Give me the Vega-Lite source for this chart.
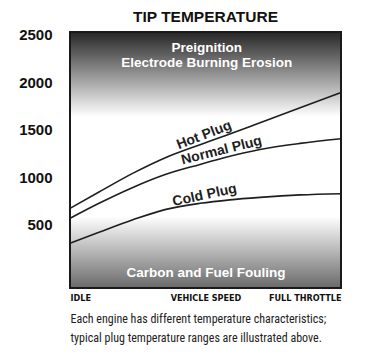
{
  "$schema": "https://vega.github.io/schema/vega-lite/v6.json",
  "width": 271,
  "height": 256,
  "autosize": "none",
  "padding": {"left": 70, "top": 32, "right": 34, "bottom": 65},
  "background": "white",
  "config": {"view": {"stroke": null}, "font": "Liberation Sans"},
  "title": {"text": "TIP TEMPERATURE", "font": "Liberation Sans", "fontSize": 15.5, "fontWeight": "bold", "color": "#111111", "anchor": "middle", "offset": 2},
  "datasets": {
    "frame": [{"x0": 0, "x1": 1, "y0": 0, "y1": 2500}],
    "curves": [
      {"plug": "Hot", "x": 0, "y": 778},
      {"plug": "Hot", "x": 0.107, "y": 937},
      {"plug": "Hot", "x": 0.231, "y": 1119},
      {"plug": "Hot", "x": 0.354, "y": 1275},
      {"plug": "Hot", "x": 0.48, "y": 1400},
      {"plug": "Hot", "x": 0.572, "y": 1487},
      {"plug": "Hot", "x": 0.701, "y": 1614},
      {"plug": "Hot", "x": 0.849, "y": 1760},
      {"plug": "Hot", "x": 1, "y": 1910},
      {"plug": "Normal", "x": 0, "y": 680},
      {"plug": "Normal", "x": 0.107, "y": 827},
      {"plug": "Normal", "x": 0.232, "y": 982},
      {"plug": "Normal", "x": 0.354, "y": 1110},
      {"plug": "Normal", "x": 0.48, "y": 1207},
      {"plug": "Normal", "x": 0.572, "y": 1275},
      {"plug": "Normal", "x": 0.701, "y": 1353},
      {"plug": "Normal", "x": 0.849, "y": 1412},
      {"plug": "Normal", "x": 1, "y": 1457},
      {"plug": "Cold", "x": 0, "y": 437},
      {"plug": "Cold", "x": 0.107, "y": 544},
      {"plug": "Cold", "x": 0.232, "y": 666},
      {"plug": "Cold", "x": 0.354, "y": 768},
      {"plug": "Cold", "x": 0.48, "y": 827},
      {"plug": "Cold", "x": 0.59, "y": 861},
      {"plug": "Cold", "x": 0.701, "y": 885},
      {"plug": "Cold", "x": 0.849, "y": 909},
      {"plug": "Cold", "x": 1, "y": 921}
    ],
    "plugLabels": [
      {"label": "Hot Plug", "x": 0.5, "y": 1455},
      {"label": "Normal Plug", "x": 0.563, "y": 1304},
      {"label": "Cold Plug", "x": 0.5, "y": 867}
    ],
    "notes": [
      {"text": "Preignition", "x": 0.505, "y": 2320},
      {"text": "Electrode Burning Erosion", "x": 0.505, "y": 2164},
      {"text": "Carbon and Fuel Fouling", "x": 0.502, "y": -50}
    ]
  },
  "resolve": {"scale": {"y": "independent"}, "axis": {"y": "independent"}},
  "layer": [
    {
      "data": {"name": "frame"},
      "mark": {
        "type": "rect",
        "fill": {
          "gradient": "linear", "x1": 0, "y1": 0, "x2": 0, "y2": 1,
          "stops": [
            {"offset": 0, "color": "#262626"},
            {"offset": 0.33, "color": "#ffffff"},
            {"offset": 0.72, "color": "#ffffff"},
            {"offset": 1, "color": "#6a6a6a"}
          ]
        },
        "stroke": "#1a1a1a",
        "strokeWidth": 2
      },
      "encoding": {
        "x": {
          "field": "x0", "type": "quantitative",
          "scale": {"domain": [0, 1], "nice": false, "zero": false},
          "axis": {
            "values": [0, 0.5, 1],
            "labelExpr": "datum.value == 0 ? 'IDLE' : datum.value == 1 ? 'FULL THROTTLE' : 'VEHICLE SPEED'",
            "labelFlush": true, "labelOverlap": false,
            "ticks": false, "domain": false, "grid": false,
            "labelFont": "DejaVu Sans Condensed", "labelFontWeight": "bold", "labelFontSize": 9,
            "labelColor": "#111111", "labelPadding": 5,
            "title": ["Each engine has different temperature characteristics;", "typical plug temperature ranges are illustrated above."],
            "titleFont": "Roboto Condensed", "titleFontWeight": "normal", "titleFontSize": 12,
            "titleColor": "#222222", "titleAnchor": "start", "titleAlign": "left",
            "titleLineHeight": 19, "titlePadding": 11
          }
        },
        "x2": {"field": "x1"},
        "y": {
          "field": "y0", "type": "quantitative",
          "scale": {"domain": [0, 2500], "nice": false, "zero": false},
          "axis": {"orient": "right", "labels": false, "domain": false, "grid": false, "tickSize": -9, "tickWidth": 1.5, "tickColor": "#222222", "values": [500, 1000, 1500, 2000], "title": null}
        },
        "y2": {"field": "y1"}
      }
    },
    {
      "layer": [
        {
          "data": {"name": "curves"},
          "mark": {"type": "line", "interpolate": "monotone", "color": "#1e1e1e", "strokeWidth": 1.6},
          "encoding": {
            "x": {"field": "x", "type": "quantitative"},
            "y": {
              "field": "y", "type": "quantitative",
              "scale": {"domain": [0, 2500], "nice": false, "zero": false},
              "axis": {"orient": "left", "labels": false, "domain": false, "grid": false, "tickSize": -9, "tickWidth": 1.5, "tickColor": "#222222", "values": [500, 1000, 1500, 2000], "title": null}
            },
            "detail": {"field": "plug"}
          }
        },
        {
          "data": {"name": "plugLabels"},
          "transform": [{"filter": "datum.label == 'Hot Plug'"}],
          "mark": {"type": "text", "angle": -21, "fontSize": 14, "fontWeight": "bold", "color": "#1e1e1e", "align": "center", "baseline": "alphabetic"},
          "encoding": {
            "x": {"field": "x", "type": "quantitative"},
            "y": {"field": "y", "type": "quantitative", "scale": {"domain": [0, 2500], "nice": false, "zero": false}},
            "text": {"field": "label"}
          }
        },
        {
          "data": {"name": "plugLabels"},
          "transform": [{"filter": "datum.label == 'Normal Plug'"}],
          "mark": {"type": "text", "angle": -14, "fontSize": 14, "fontWeight": "bold", "color": "#1e1e1e", "align": "center", "baseline": "alphabetic"},
          "encoding": {
            "x": {"field": "x", "type": "quantitative"},
            "y": {"field": "y", "type": "quantitative", "scale": {"domain": [0, 2500], "nice": false, "zero": false}},
            "text": {"field": "label"}
          }
        },
        {
          "data": {"name": "plugLabels"},
          "transform": [{"filter": "datum.label == 'Cold Plug'"}],
          "mark": {"type": "text", "angle": -12, "fontSize": 14, "fontWeight": "bold", "color": "#1e1e1e", "align": "center", "baseline": "alphabetic"},
          "encoding": {
            "x": {"field": "x", "type": "quantitative"},
            "y": {"field": "y", "type": "quantitative", "scale": {"domain": [0, 2500], "nice": false, "zero": false}},
            "text": {"field": "label"}
          }
        }
      ]
    },
    {
      "data": {"name": "notes"},
      "mark": {"type": "text", "color": "white", "fontSize": 13.5, "fontWeight": "bold", "align": "center", "baseline": "alphabetic"},
      "encoding": {
        "x": {"field": "x", "type": "quantitative"},
        "y": {
          "field": "y", "type": "quantitative",
          "scale": {"domain": [-162, 2528], "nice": false, "zero": false},
          "axis": {"orient": "left", "values": [500, 1000, 1500, 2000, 2500], "format": "d", "ticks": false, "domain": false, "grid": false, "labelPadding": 18, "labelFont": "Liberation Sans", "labelFontSize": 15, "labelFontWeight": "bold", "labelColor": "#111111", "title": null, "labelOverlap": false, "labelBound": false, "labelFlush": false}
        },
        "text": {"field": "text"}
      }
    }
  ]
}
